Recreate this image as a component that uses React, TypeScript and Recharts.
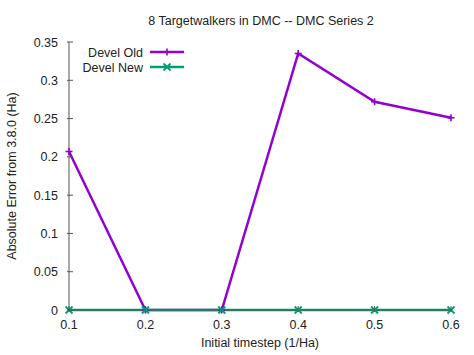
import { LineChart, Line, XAxis, YAxis } from "recharts";

const timesteps = [0.1, 0.2, 0.3, 0.4, 0.5, 0.6];
const develOld = [0.207, 0, 0, 0.335, 0.272, 0.251];
const develNew = [0, 0, 0, 0, 0, 0];
const xTicks = [0.1, 0.2, 0.3, 0.4, 0.5, 0.6];
const yTicks = [0, 0.05, 0.1, 0.15, 0.2, 0.25, 0.3, 0.35];

const series = [
  { key: "old", name: "Devel Old", color: "#9400D3", marker: "plus" },
  { key: "new", name: "Devel New", color: "#009E73", marker: "cross" },
];

const data = timesteps.map((x, i) => ({ x, old: develOld[i], new: develNew[i] }));

const font = "'Liberation Sans', Arial, sans-serif";
const border = "#555";
const txt = "#222";

function Marker({ cx, cy, color, kind }: any) {
  if (cx == null || cy == null) return null;
  const s = 3.5;
  if (kind === "plus") {
    return (
      <g stroke={color} strokeWidth={1.6}>
        <line x1={cx - s} y1={cy} x2={cx + s} y2={cy} />
        <line x1={cx} y1={cy - s} x2={cx} y2={cy + s} />
      </g>
    );
  }
  return (
    <g stroke={color} strokeWidth={1.8}>
      <line x1={cx - s} y1={cy - s} x2={cx + s} y2={cy + s} />
      <line x1={cx - s} y1={cy + s} x2={cx + s} y2={cy - s} />
    </g>
  );
}

function BottomTick({ x, y, payload }: any) {
  return (
    <g>
      <line x1={x} y1={y} x2={x} y2={y - 6} stroke={border} />
      <text x={x} y={y + 17} textAnchor="middle" fontSize={12.5} fill={txt} fontFamily={font}>
        {payload.value}
      </text>
    </g>
  );
}

function TopTick({ x, y }: any) {
  return <line x1={x} y1={y} x2={x} y2={y + 6} stroke={border} />;
}

function LeftTick({ x, y, payload }: any) {
  return (
    <g>
      <line x1={x} y1={y} x2={x + 6} y2={y} stroke={border} />
      <text x={x - 9} y={y + 4.5} textAnchor="end" fontSize={12.5} fill={txt} fontFamily={font}>
        {payload.value}
      </text>
    </g>
  );
}

function RightTick({ x, y }: any) {
  return <line x1={x} y1={y} x2={x - 6} y2={y} stroke={border} />;
}

function KeyBox() {
  return (
    <svg width={130} height={34} style={{ position: "absolute", left: 70, top: 44 }}>
      {series.map((s, i) => {
        const y = 8 + i * 15;
        return (
          <g key={s.key}>
            <text x={73} y={y + 4.5} textAnchor="end" fontSize={12.5} fill={txt} fontFamily={font}>
              {s.name}
            </text>
            <line x1={80} y1={y} x2={114} y2={y} stroke={s.color} strokeWidth={2.5} />
            <Marker cx={97} cy={y} color={s.color} kind={s.marker} />
          </g>
        );
      })}
    </svg>
  );
}

export default function App() {
  return (
    <div style={{ position: "absolute", left: 0, top: 0, width: 474, height: 355, background: "#fff" }}>
      <LineChart width={474} height={355} data={data} margin={{ top: 42, right: 23, bottom: 0, left: 0 }}>
        <text x={261} y={25} textAnchor="middle" fontSize={12.5} fill={txt} fontFamily={font}>
          8 Targetwalkers in DMC -- DMC Series 2
        </text>
        <XAxis
          dataKey="x"
          type="number"
          domain={[0.1, 0.6]}
          ticks={xTicks}
          height={45}
          tickSize={0}
          tickLine={false}
          axisLine={{ stroke: border }}
          tick={<BottomTick />}
          interval={0}
          label={{
            value: "Initial timestep (1/Ha)",
            position: "insideBottom",
            offset: 8,
            style: { fontFamily: font, fontSize: 12.5, fill: txt },
          }}
        />
        <XAxis
          xAxisId="top"
          orientation="top"
          dataKey="x"
          type="number"
          domain={[0.1, 0.6]}
          ticks={xTicks}
          height={0}
          tickSize={0}
          tickLine={false}
          axisLine={{ stroke: border }}
          tick={<TopTick />}
          interval={0}
        />
        <YAxis
          type="number"
          domain={[0, 0.35]}
          ticks={yTicks}
          width={69}
          tickSize={0}
          tickLine={false}
          axisLine={{ stroke: border }}
          tick={<LeftTick />}
          interval={0}
          label={{
            value: "Absolute Error from 3.8.0 (Ha)",
            angle: -90,
            position: "insideLeft",
            offset: 12,
            style: { fontFamily: font, fontSize: 12.5, fill: txt, textAnchor: "middle" },
          }}
        />
        <YAxis
          yAxisId="right"
          orientation="right"
          type="number"
          domain={[0, 0.35]}
          ticks={yTicks}
          width={0}
          tickSize={0}
          tickLine={false}
          axisLine={{ stroke: border }}
          tick={<RightTick />}
          interval={0}
        />
        {series.map((s) => (
          <Line
            key={s.key}
            dataKey={s.key}
            name={s.name}
            stroke={s.color}
            strokeWidth={2.5}
            isAnimationActive={false}
            dot={(p: any) => <Marker key={`${s.key}-${p.index}`} cx={p.cx} cy={p.cy} color={s.color} kind={s.marker} />}
            activeDot={false}
          />
        ))}
      </LineChart>
      <KeyBox />
    </div>
  );
}
